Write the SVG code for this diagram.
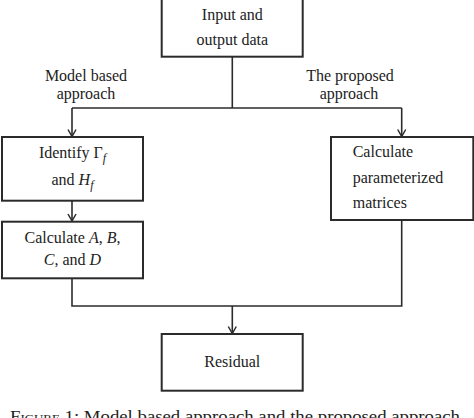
<svg xmlns="http://www.w3.org/2000/svg" width="474" height="418" viewBox="0 0 474 418">
<style>
.box{fill:#fff;stroke:#2b2b2b;stroke-width:2}
.ln{fill:none;stroke:#2b2b2b;stroke-width:1.6}
.t{font-family:"Liberation Serif","Times New Roman",serif;font-size:16px;fill:#222}
.c{text-anchor:middle}
.i{font-style:italic}
</style>
<defs>
<marker id="ah" viewBox="0 0 10 10" refX="9" refY="5" markerWidth="10" markerHeight="10" markerUnits="userSpaceOnUse" orient="auto">
<path d="M2,1 L9,5 L2,9" fill="none" stroke="#2b2b2b" stroke-width="1.5"/>
</marker>
</defs>
<rect width="474" height="418" fill="#fff"/>
<g id="connectors">
<path class="ln" d="M232.3,57 V108"/>
<path class="ln" d="M72,108 H401.7"/>
<path class="ln" d="M72,108 V136.5" marker-end="url(#ah)"/>
<path class="ln" d="M401.7,108 V136.5" marker-end="url(#ah)"/>
<path class="ln" d="M72,201 V221" marker-end="url(#ah)"/>
<path class="ln" d="M72,278.5 V306 H401.7 V220"/>
<path class="ln" d="M232.3,306 V333.5" marker-end="url(#ah)"/>
<text class="t c" x="86" y="81">Model based</text>
<text class="t c" x="86" y="99">approach</text>
<text class="t c" x="350" y="81">The proposed</text>
<text class="t c" x="349" y="99">approach</text>
</g>
<g id="input">
<rect class="box" x="161.7" y="-1" width="141" height="57.7"/>
<text class="t c" x="232.3" y="20">Input and</text>
<text class="t c" x="232.3" y="45">output data</text>
</g>
<g id="identify">
<rect class="box" x="2" y="137" width="141" height="63.7"/>
<text class="t c" x="72.5" y="158">Identify Γ<tspan class="i" font-size="12" dy="4">f</tspan></text>
<text class="t c" x="72.5" y="185">and <tspan class="i">H</tspan><tspan class="i" font-size="12" dy="4">f</tspan></text>
</g>
<g id="calcABCD">
<rect class="box" x="2" y="221.7" width="141" height="56.6"/>
<text class="t c" x="72.5" y="243.3">Calculate <tspan class="i">A</tspan>, <tspan class="i">B</tspan>,</text>
<text class="t c" x="72.5" y="265"><tspan class="i">C</tspan>, and <tspan class="i">D</tspan></text>
</g>
<g id="calcParam">
<rect class="box" x="331" y="137" width="142.3" height="83"/>
<text class="t" x="352.7" y="156.7">Calculate</text>
<text class="t" x="352.7" y="183.3">parameterized</text>
<text class="t" x="352.7" y="208.3">matrices</text>
</g>
<g id="residual">
<rect class="box" x="161.7" y="334" width="141" height="56.7"/>
<text class="t c" x="232.3" y="366.7">Residual</text>
</g>
<text class="t" x="10" y="422" font-size="15" textLength="450" lengthAdjust="spacingAndGlyphs"><tspan style="font-variant:small-caps">Figure 1</tspan>: Model based approach and the proposed approach</text>
</svg>
